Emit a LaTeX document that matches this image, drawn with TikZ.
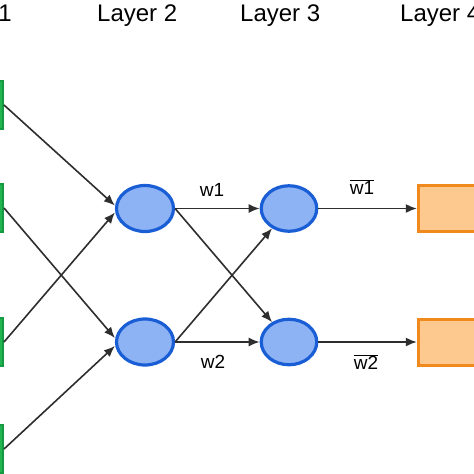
\documentclass[tikz,border=0pt]{standalone}
\usepackage{fontspec}
\setmainfont{Liberation Sans}
\usetikzlibrary{arrows.meta,shapes.geometric}
\definecolor{gfill}{HTML}{22B450}
\definecolor{gdraw}{HTML}{149A40}
\definecolor{bfill}{HTML}{8DB3F5}
\definecolor{bdraw}{HTML}{1A5ED6}
\definecolor{ofill}{HTML}{FDC98E}
\definecolor{odraw}{HTML}{F08A1C}
\definecolor{arr}{HTML}{2E2E2E}
\begin{document}
\begin{tikzpicture}[x=1pt,y=-1pt,
 inbox/.style={rectangle,draw=gdraw,fill=gfill,line width=2pt,minimum width=24pt,minimum height=48pt,inner sep=0},
 neuron/.style={ellipse,draw=bdraw,fill=bfill,line width=3.2pt,minimum width=57pt,minimum height=46pt,inner sep=0},
 outbox/.style={rectangle,draw=odraw,fill=ofill,line width=3pt,minimum width=60pt,minimum height=46pt,inner sep=0},
 conn/.style={draw=arr,line width=1.6pt,-{Latex[length=11pt,width=9pt]}},
 title/.style={font=\fontsize{24}{28}\selectfont,inner sep=0},
 wlabel/.style={font=\fontsize{19}{22}\selectfont,inner sep=0}]
\path[use as bounding box] (0,0) rectangle (474,474);
\clip (0,0) rectangle (474,474);
\fill[white] (0,0) rectangle (474,474);
% titles
\node[title,anchor=base east] (t1) at (12,21) {Layer 1};
\node[title,anchor=base west] (t2) at (97,21) {Layer 2};
\node[title,anchor=base west] (t3) at (240,21) {Layer 3};
\node[title,anchor=base west] (t4) at (400,21) {Layer 4};
% layer 1
\node[inbox] (b1) at (-9,105) {};
\node[inbox] (b2) at (-9,208) {};
\node[inbox] (b3) at (-9,342) {};
\node[inbox] (b4) at (-9,449) {};
% layer 2
\node[neuron] (e1) at (145,208.5) {};
\node[neuron] (e2) at (145,342) {};
% layer 3
\node[neuron,minimum width=55.5pt,minimum height=45.5pt] (e3) at (289,208.5) {};
\node[neuron,minimum width=55.5pt,minimum height=45.5pt] (e4) at (289,342) {};
% layer 4
\node[outbox] (r1) at (448.3,208.5) {};
\node[outbox] (r2) at (448.3,342) {};
% connectors layer 1 -> 2
\draw[conn] (b1.east) -- ([yshift=3pt]e1.west);
\draw[conn] (b3.east) -- ([yshift=-4pt]e1.west);
\draw[conn] (b2.east) -- ([yshift=4pt]e2.west);
\draw[conn] (b4.east) -- ([yshift=-4pt]e2.west);
% layer 2 -> 3
\draw[conn] (e1.east) -- (e3.west);
\draw[conn] (e1.east) -- (e4);
\draw[conn] (e2.east) -- (e3);
\draw[conn] (e2.east) -- (e4.west);
% layer 3 -> 4
\draw[conn] (e3.east) -- (r1.west);
\draw[conn] (e4.east) -- (r2.west);
% weight labels
\node[wlabel] (w1) at (212,190) {w1};
\node[wlabel] (w2) at (213,362) {w2};
\node[wlabel] (v1) at (362,187) {$\overline{\mbox{w1}}$};
\node[wlabel] (v2) at (366,362) {$\overline{\mbox{w2}}$};
\end{tikzpicture}
\end{document}
